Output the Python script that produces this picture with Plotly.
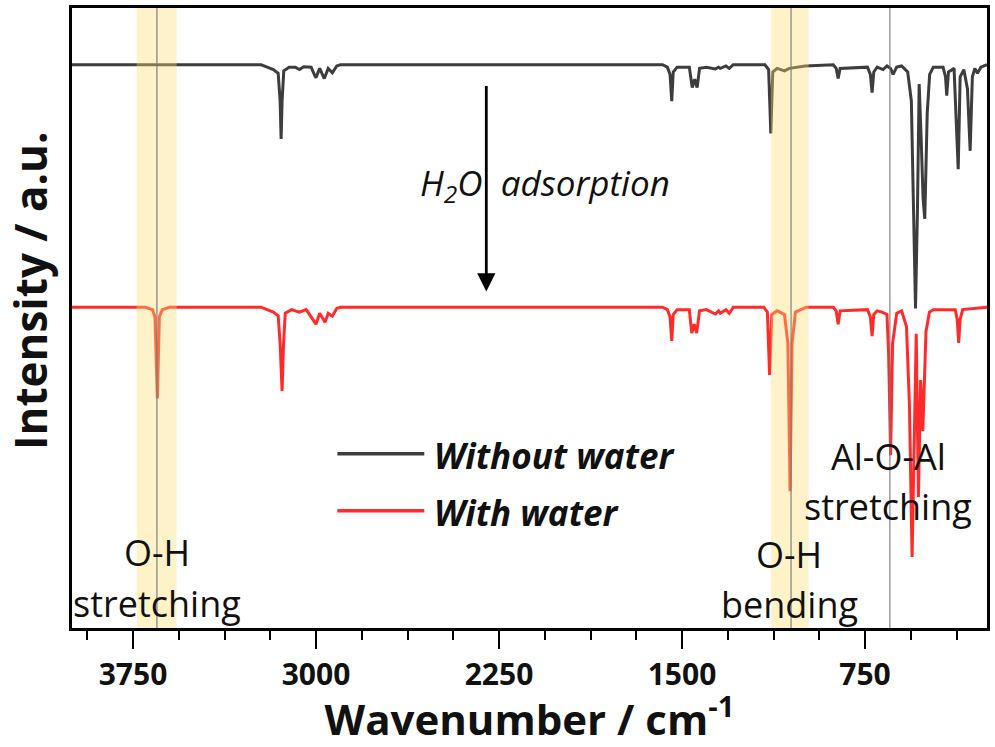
import plotly.graph_objects as go

# ---------------- data ----------------
# Spectrum without water (normalised intensity, baseline = 1)
wn_dry = [4000, 3225, 3200, 3175, 3155, 3147, 3143, 3139, 3132, 3110, 3085, 3068, 3050,
          3020, 3005, 3000, 2985, 2966, 2950, 2933, 2915, 2900,
          1580, 1560, 1549, 1542, 1536, 1520, 1470, 1458, 1448, 1438, 1428, 1400,
          1363, 1350, 1343, 1320, 1306, 1290,
          1160, 1145, 1136, 1128, 1110, 1080, 1060, 1030, 995,
          880, 868, 860, 852, 740, 728, 721, 714, 700, 676, 660, 645, 635, 620, 600,
          575, 560, 543, 535, 528, 520, 512, 505, 495, 485, 470,
          430, 420, 415, 408, 385, 368, 360, 345, 330, 319, 310, 300, 289, 275, 250]
int_dry = [1.0, 1.0, 0.99, 0.98, 0.965, 0.85, 0.694, 0.85, 0.975, 0.99, 0.99, 0.98, 0.992,
           0.99, 0.955, 0.947, 0.985, 0.943, 0.985, 0.967, 0.995, 1.0,
           1.0, 0.99, 0.96, 0.85, 0.97, 0.99, 0.99, 0.906, 0.94, 0.906, 0.985, 0.99,
           0.983, 0.99, 0.985, 0.995, 0.985, 1.0,
           1.0, 0.98, 0.717, 0.97, 0.985, 0.975, 0.985, 0.99, 0.995,
           1.0, 0.985, 0.943, 0.985, 0.99, 0.96, 0.885, 0.97, 0.99, 0.98, 0.995, 0.985, 0.96, 0.99, 0.995,
           0.97, 0.85, -0.005, 0.4, 0.92, 0.7, 0.45, 0.364, 0.8, 0.96, 0.99,
           0.99, 0.95, 0.873, 0.97, 0.985, 0.569, 0.95, 0.98, 0.9, 0.645, 0.95, 0.985, 0.965, 0.99, 1.0]

# Spectrum with water (normalised intensity, baseline = 1)
wn_wet = [4000, 3700, 3670, 3660, 3650, 3642, 3630, 3600,
          3225, 3200, 3175, 3155, 3147, 3139, 3133, 3126, 3100, 3068, 3040,
          3000, 2985, 2963, 2950, 2933, 2915, 2900,
          1580, 1560, 1549, 1542, 1536, 1520, 1470, 1460, 1450, 1440, 1428, 1400,
          1363, 1350, 1343, 1320, 1306, 1290,
          1165, 1150, 1141, 1132, 1110, 1080, 1066, 1057, 1049, 1035, 1010, 990,
          880, 868, 860, 852, 740, 728, 721, 714, 700, 680, 660, 653, 645, 637, 620,
          600, 580, 568, 557, 548, 540, 531, 522, 513, 500, 486, 470,
          380, 372, 366, 360, 350, 250]
int_wet = [1.0, 1.0, 0.99, 0.96, 0.624, 0.96, 0.99, 1.0,
           1.0, 0.99, 0.98, 0.965, 0.85, 0.655, 0.85, 0.975, 0.99, 0.98, 0.99,
           0.93, 0.975, 0.938, 0.975, 0.963, 0.995, 1.0,
           1.0, 0.99, 0.96, 0.861, 0.97, 0.99, 0.99, 0.893, 0.93, 0.893, 0.985, 0.99,
           0.972, 0.985, 0.975, 0.99, 0.975, 1.0,
           1.0, 0.98, 0.721, 0.97, 0.985, 0.97, 0.85, 0.241, 0.85, 0.98, 0.99, 1.0,
           1.0, 0.985, 0.93, 0.985, 0.99, 0.96, 0.881, 0.97, 0.985, 0.98, 0.97, 0.8, 0.39, 0.85, 0.975,
           0.985, 0.92, 0.6, -0.03, 0.5, 0.89, 0.216, 0.7, 0.49, 0.9, 0.98, 0.99,
           0.99, 0.95, 0.853, 0.95, 0.99, 1.0]

series_names = ["Without water", "With water"]
series_offsets = [0.0, -1.0]          # vertical stacking of the two spectra
series_colors = ["#3d3d3d", "#ff2b2b"]

# Marked bands / lines (wavenumber, cm-1)
oh_stretch_band = [3735, 3571]
oh_stretch_line = 3652
oh_bend_band = [1136, 981]
oh_bend_line = 1053
aloal_line = 648

tick_vals = [3750, 3000, 2250, 1500, 750]
tick_text = ["3750", "3000", "2250", "1500", "750"]

x_range = [4000, 250]
y_range = [-1.323, 1.234]

FONT = "Open Sans"
TXT = "#111111"

fig = go.Figure()

spectra = [(wn_dry, int_dry), (wn_wet, int_wet)]
for (wn, it), name, off, col in zip(spectra, series_names, series_offsets, series_colors):
    fig.add_trace(go.Scatter(
        x=wn, y=[v + off for v in it], mode="lines", name=name,
        line=dict(color=col, width=3), showlegend=False, hoverinfo="skip"))

shapes = []
# highlighted bands (drawn above, semi transparent)
for b in (oh_stretch_band, oh_bend_band):
    shapes.append(dict(type="rect", xref="x", yref="paper", x0=b[0], x1=b[1], y0=0, y1=1,
                       fillcolor="rgba(250,220,110,0.38)", line=dict(width=0), layer="above"))
for xl in (oh_stretch_line, oh_bend_line, aloal_line):
    shapes.append(dict(type="line", xref="x", yref="paper", x0=xl, x1=xl, y0=0, y1=1,
                       line=dict(color="rgba(120,120,120,0.85)", width=1.3), layer="above"))

# manual legend samples
leg_y = [0.281, 0.189]
for yy, col in zip(leg_y, series_colors):
    shapes.append(dict(type="line", xref="paper", yref="paper", x0=0.290, x1=0.385, y0=yy, y1=yy,
                       line=dict(color=col, width=3.5)))

annotations = []
for yy, name in zip(leg_y, series_names):
    annotations.append(dict(xref="paper", yref="paper", x=0.393, y=yy - 0.003, xanchor="left",
                            yanchor="middle", showarrow=False,
                            text=f"<b><i>{name}</i></b>",
                            font=dict(family=FONT, size=35, color=TXT)))

# arrow for H2O adsorption
annotations.append(dict(x=2302, y=0.065, ax=2302, ay=0.918, xref="x", yref="y", axref="x", ayref="y",
                        showarrow=True, arrowhead=2, arrowsize=1.3, arrowwidth=2.8, arrowcolor="#000",
                        text=""))
annotations.append(dict(x=2060, y=0.505, xref="x", yref="y", showarrow=False,
                        text="<i>H<sub>2</sub>O  adsorption</i>",
                        font=dict(family=FONT, size=35, color=TXT)))

# band labels
label_specs = [
    ("O-H", oh_stretch_line, -1.01),
    ("stretching", oh_stretch_line, -1.223),
    ("O-H", 1060, -1.018),
    ("bending", 1060, -1.227),
    ("Al-O-Al", 654, -0.616),
    ("stretching", 654, -0.821),
]
for txt, xx, yy in label_specs:
    annotations.append(dict(x=xx, y=yy, xref="x", yref="y", showarrow=False, text=txt,
                            xanchor="center", yanchor="middle",
                            font=dict(family=FONT, size=36, color=TXT)))

# y-axis title (placed as rotated text left of the frame)
annotations.append(dict(xref="paper", yref="paper", x=-0.046, y=0.545, xanchor="center",
                        yanchor="middle", showarrow=False, textangle=-90,
                        text="<b>Intensity / a.u.</b>",
                        font=dict(family=FONT, size=44, color=TXT)))

fig.update_layout(
    width=995, height=747,
    margin=dict(l=72, r=5, t=5, b=119),
    paper_bgcolor="white", plot_bgcolor="white",
    shapes=shapes, annotations=annotations,
    xaxis=dict(
        range=x_range, tickmode="array", tickvals=tick_vals, ticktext=tick_text,
        ticks="outside", ticklen=18, tickwidth=2.2, tickcolor="#000",
        minor=dict(dtick=187.5, tick0=750, ticklen=9, tickwidth=2.2, tickcolor="#000", ticks="outside"),
        showline=True, linewidth=2.5, linecolor="#000", mirror=True,
        showgrid=False, zeroline=False, ticklabelstandoff=0,
        tickfont=dict(family=FONT, size=30, color=TXT, weight="bold"),
        title=dict(text="Wavenumber / cm<sup>-1</sup>", standoff=0,
                   font=dict(family=FONT, size=42, color=TXT, weight="bold")),
    ),
    yaxis=dict(
        range=y_range, showticklabels=False, ticks="", showgrid=False, zeroline=False,
        showline=True, linewidth=2.5, linecolor="#000", mirror=True,
    ),
)

fig.write_html("out.html")
